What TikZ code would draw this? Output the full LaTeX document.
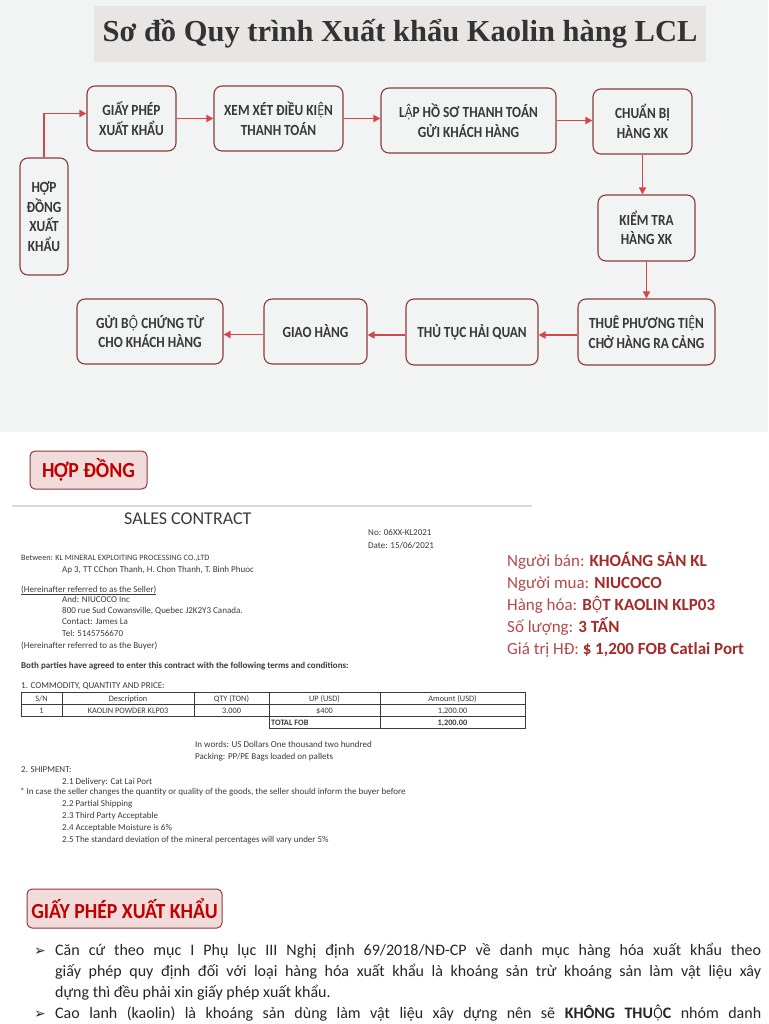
\documentclass[tikz,border=0pt]{standalone}
\usepackage{fontspec}
\setmainfont{Carlito}
\newfontfamily\titlefont{Liberation Serif}
\newfontfamily\boxfont[FakeStretch=0.86]{Carlito}
\newfontfamily\labelfont[FakeStretch=0.92]{Carlito}
\newfontfamily\vnfix[Scale=0.9,FakeStretch=0.88]{Noto Sans}
\newfontfamily\symfont{DejaVu Sans}
\newcommand\VN[1]{{\vnfix #1}}
\usetikzlibrary{arrows.meta,calc}
\definecolor{bggray}{HTML}{F2F3F3}
\definecolor{titlegray}{HTML}{E7E6E5}
\definecolor{titletext}{HTML}{333333}
\definecolor{boxborder}{HTML}{8A3B3B}
\definecolor{arrowred}{HTML}{D24848}
\definecolor{boxtext}{HTML}{383838}
\definecolor{labelfill}{HTML}{F2DCDB}
\definecolor{labeltext}{HTML}{C00000}
\definecolor{infored}{HTML}{B54A4A}
\definecolor{infobold}{HTML}{A52A2A}
\definecolor{doctext}{HTML}{3A3A3A}
\definecolor{bodytext}{HTML}{262626}
\tikzset{
  flow/.style={draw=boxborder, line width=1.1pt, rounded corners=8pt, fill=bggray,
    font=\boxfont\bfseries\fontsize{15.5}{19.5}\selectfont, text=boxtext, align=center, inner sep=0pt},
  arr/.style={draw=arrowred, line width=1.8pt, -{Triangle[length=7pt,width=7pt]}},
  titlestyle/.style={fill=titlegray, inner sep=0pt, text=titletext,
    font=\titlefont\bfseries\fontsize{30.5}{36}\selectfont},
  labelbox/.style={draw=boxborder, line width=1pt, rounded corners=5pt, fill=labelfill,
    text=labeltext, font=\labelfont\bfseries\fontsize{21.5}{24}\selectfont, inner sep=0pt},
  doc/.style={anchor=base west, inner sep=0pt, text=doctext, font=\fontsize{9}{10.8}\selectfont},
  cell/.style={anchor=base, inner sep=0pt, text=doctext, font=\fontsize{8.3}{10}\selectfont},
  info/.style={anchor=base west, inner sep=0pt, text=infored, font=\fontsize{17}{20}\selectfont},
  body/.style={anchor=base west, inner sep=0pt, text=bodytext, font=\fontsize{16}{21}\selectfont},
  bul/.style={anchor=base west, inner sep=0pt, text=bodytext, font=\symfont\fontsize{14}{16}\selectfont},
}
\begin{document}
\begin{tikzpicture}[x=1pt,y=-1pt]
\useasboundingbox (0,0) rectangle (768,1024);
\fill[white] (0,0) rectangle (768,1024);
\fill[bggray] (0,0) rectangle (768,432);

% title
\node[titlestyle, minimum width=612pt, minimum height=56pt] (title) at (400,34) {Sơ đồ Quy trình Xuất khẩu Kaolin hàng LCL};

% flow boxes
\node[flow, minimum width=48pt, minimum height=117pt] (hop) at (44,216.5) {HỢP\\ĐỒNG\\XUẤT\\KHẨU};
\node[flow, minimum width=89pt, minimum height=65pt] (giay) at (131.5,118.5) {GIẤY PHÉP\\XUẤT KHẨU};
\node[flow, minimum width=129pt, minimum height=65pt] (xem) at (278.5,118.5) {XEM XÉT ĐIỀU KI\VN{Ệ}N\\THANH TOÁN};
\node[flow, minimum width=175pt, minimum height=65pt] (lap) at (468.5,120.5) {L\VN{Ậ}P HỒ SƠ THANH TOÁN\\GỬI KHÁCH HÀNG};
\node[flow, minimum width=99pt, minimum height=65pt] (chuan) at (642.5,121.5) {CHUẨN BỊ\\HÀNG XK};
\node[flow, minimum width=97pt, minimum height=66pt] (kiem) at (646.5,228) {KIỂM TRA\\HÀNG XK};
\node[flow, minimum width=137pt, minimum height=66pt] (thue) at (646.5,332) {THUÊ PHƯƠNG TI\VN{Ệ}N\\CHỞ HÀNG RA CẢNG};
\node[flow, minimum width=132pt, minimum height=66pt] (thu) at (472,332) {THỦ TỤC HẢI QUAN};
\node[flow, minimum width=103pt, minimum height=65pt] (giao) at (315.5,331.5) {GIAO HÀNG};
\node[flow, minimum width=146pt, minimum height=65pt] (gui) at (150,331.5) {GỬI B\VN{Ộ} CHỨNG TỪ\\CHO KHÁCH HÀNG};

% connectors
\draw[arr] (hop.north) |- ([yshift=5pt]giay.west);
\draw[arr] (giay.east) -- (xem.west);
\draw[arr] (xem.east) -- (xem.east -| lap.west);
\draw[arr] (lap.east) -- (lap.east -| chuan.west);
\draw[arr] (chuan.south) -- (chuan.south |- kiem.north);
\draw[arr] (kiem.south) -- (kiem.south |- thue.north);
\draw[arr] ([yshift=-3pt]thue.west) -- ([yshift=-3pt]thue.west -| thu.east);
\draw[arr] ([yshift=-3pt]thu.west) -- ([yshift=-3pt]thu.west -| giao.east);
\draw[arr] ([yshift=-3pt]giao.west) -- ([yshift=-3pt]giao.west -| gui.east);

% section label 1
\node[labelbox, minimum width=117pt, minimum height=38pt] (lbl1) at (88.5,470) {HỢP ĐỒNG};

% scanned contract
\draw[gray!30, line width=2pt] (12,506) -- (532,506);
\node[anchor=base west, inner sep=0pt, text=doctext, font=\fontsize{18}{20}\selectfont] (sc) at (124,524) {SALES CONTRACT};
\node[doc] (d1) at (368,535) {No: 06XX-KL2021};
\node[doc] (d2) at (368,548) {Date: 15/06/2021};
\node[doc, font=\fontsize{8.2}{10}\selectfont] (d3) at (21,560) {Between: KL MINERAL EXPLOITING PROCESSING CO.,LTD};
\node[doc] (d4) at (62,572) {Ap 3, TT CChon Thanh, H. Chon Thanh, T. Binh Phuoc};
\node[doc] (d5) at (21,592) {\underline{(Hereinafter referred to as the Seller)}};
\node[doc] (d6) at (62,602) {And: NIUCOCO Inc};
\node[doc] (d7) at (62,613) {800 rue Sud Cowansville, Quebec J2K2Y3 Canada.};
\node[doc] (d8) at (62,624) {Contact: James La};
\node[doc] (d9) at (62,636) {Tel: 5145756670};
\node[doc] (d10) at (21,648) {(Hereinafter referred to as the Buyer)};
\node[doc, font=\bfseries\fontsize{9}{10.8}\selectfont] (d11) at (21,668) {Both parties have agreed to enter this contract with the following terms and conditions:};
\node[doc] (d12) at (21,688) {1. COMMODITY, QUANTITY AND PRICE:};
% table
\draw[doctext, line width=0.6pt] (21,692) rectangle (525,716);
\draw[doctext, line width=0.6pt] (21,704) -- (525,704);
\foreach \cx in {62,194,269,380} {\draw[doctext, line width=0.6pt] (\cx,692) -- (\cx,716);}
\draw[doctext, line width=0.6pt] (269,716) -- (269,728) -- (525,728) -- (525,716);
\draw[doctext, line width=0.6pt] (380,716) -- (380,728);
\node[cell] (t1) at (41.5,701.5) {S/N};
\node[cell] (t2) at (128,701.5) {Description};
\node[cell] (t3) at (231.5,701.5) {QTY (TON)};
\node[cell] (t4) at (324.5,701.5) {UP (USD)};
\node[cell] (t5) at (452.5,701.5) {Amount (USD)};
\node[cell] (t6) at (41.5,713.5) {1};
\node[cell] (t7) at (128,713.5) {KAOLIN POWDER KLP03};
\node[cell] (t8) at (231.5,713.5) {3.000};
\node[cell] (t9) at (324.5,713.5) {\$400};
\node[cell] (t10) at (452.5,713.5) {1,200.00};
\node[cell, anchor=base west, font=\bfseries\fontsize{8.3}{10}\selectfont] (t11) at (271,725.5) {TOTAL FOB};
\node[cell, font=\bfseries\fontsize{8.3}{10}\selectfont] (t12) at (452.5,725.5) {1,200.00};
\node[doc] (d13) at (195,747) {In words: US Dollars One thousand two hundred};
\node[doc] (d14) at (195,759) {Packing: PP/PE Bags loaded on pallets};
\node[doc] (d15) at (21,772) {2. SHIPMENT:};
\node[doc] (d16) at (62,784) {2.1 Delivery: Cat Lai Port};
\node[doc] (d17) at (20,794) {* In case the seller changes the quantity or quality of the goods, the seller should inform the buyer before};
\node[doc] (d18) at (62,806) {2.2 Partial Shipping};
\node[doc] (d19) at (62,818) {2.3 Third Party Acceptable};
\node[doc] (d20) at (62,830) {2.4 Acceptable Moisture is 6\%};
\node[doc] (d21) at (62,842) {2.5 The standard deviation of the mineral percentages will vary under 5\%};

% info
\node[info] (i1) at (507,566) {Người bán: \textcolor{infobold}{\bfseries KHOÁNG SẢN KL}};
\node[info] (i2) at (507,588) {Người mua: \textcolor{infobold}{\bfseries NIUCOCO}};
\node[info] (i3) at (507,610) {Hàng hóa: \textcolor{infobold}{\bfseries B\VN{Ộ}T KAOLIN KLP03}};
\node[info] (i4) at (507,632) {Số lượng: \textcolor{infobold}{\bfseries 3 TẤN}};
\node[info] (i5) at (507,654) {Giá trị HĐ: \textcolor{infobold}{\bfseries \$ 1,200 FOB Catlai Port}};

% section label 2
\node[labelbox, minimum width=195pt, minimum height=39pt] (lbl2) at (124.5,908.5) {GIẤY PHÉP XUẤT KHẨU};

% bullets
\node[bul] (b1) at (34,955) {➢};
\node[body] (p1) at (55,955) {\makebox[706pt][s]{Căn cứ theo mục I Phụ lục III Nghị định 69/2018/NĐ-CP về danh mục hàng hóa xuất khẩu theo}};
\node[body] (p2) at (55,976) {\makebox[706pt][s]{giấy phép quy định đối với loại hàng hóa xuất khẩu là khoáng sản trừ khoáng sản làm vật liệu xây}};
\node[body] (p3) at (55,997) {dựng thì đều phải xin giấy phép xuất khẩu.};
\node[bul] (b2) at (34,1018) {➢};
\node[body] (p4) at (55,1018) {\makebox[706pt][s]{Cao lanh (kaolin) là khoáng sản dùng làm vật liệu xây dựng nên sẽ \textbf{KHÔNG THU\VN{Ộ}C} nhóm danh}};
\end{tikzpicture}
\end{document}
